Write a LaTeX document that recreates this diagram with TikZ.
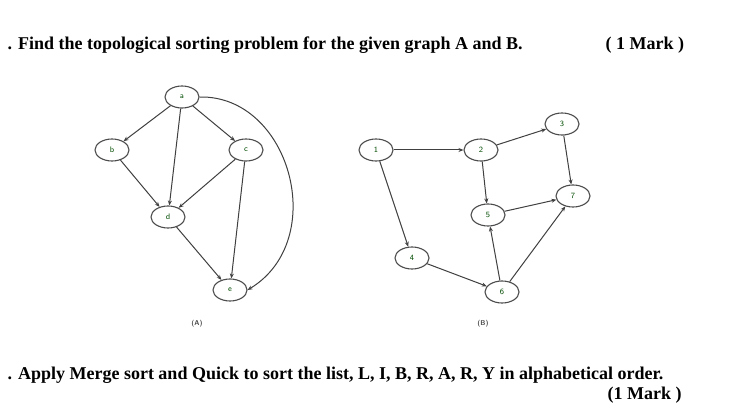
\documentclass[tikz,border=0pt]{standalone}
\usepackage{fontspec}
\setmainfont{Liberation Serif}
\usetikzlibrary{arrows.meta,shapes.geometric}
\begin{document}
\begin{tikzpicture}[x=1pt,y=-1pt,
  vert/.style={draw=black!70,line width=1.1pt,ellipse,minimum width=34pt,minimum height=22pt,inner sep=0pt,font=\sffamily\footnotesize,text=green!30!black},
  edge/.style={draw=black!75,line width=1pt,-{Stealth[length=5pt,width=4pt]}},
  title/.style={font=\bfseries\fontsize{18}{21}\selectfont,anchor=west}]
\useasboundingbox (0,0) rectangle (745,417);
\fill[white] (0,0) rectangle (745,417);
\node[title] (t1) at (4,45) {. Find the topological sorting problem for the given graph A and B.};
\node[title] (m1) at (602,45) {( 1 Mark )};
\node[title] (t2) at (4,375) {. Apply Merge sort and Quick to sort the list, L, I, B, R, A, R, Y in alphabetical order.};
\node[title] (m2) at (604,395) {(1 Mark )};
\node[vert] (a) at (182,97) {a};
\node[vert] (b) at (112,150) {b};
\node[vert] (c) at (246,150) {c};
\node[vert] (d) at (168,217) {d};
\node[vert] (e) at (230,290) {e};
\node[vert] (n1) at (376,150) {1};
\node[vert] (n2) at (481,150) {2};
\node[vert] (n3) at (562,124) {3};
\node[vert] (n7) at (573,196) {7};
\node[vert] (n5) at (488,215) {5};
\node[vert] (n4) at (412,258) {4};
\node[vert] (n6) at (502,292) {6};
\node[font=\sffamily\scriptsize\bfseries,text=black!70] (la) at (197,324) {(A)};
\node[font=\sffamily\scriptsize\bfseries,text=black!70] (lb) at (483,324) {(B)};
\draw[edge] (a) -- (b);
\draw[edge] (a) -- (c);
\draw[edge] (a) -- (d);
\draw[edge] (b) -- (d);
\draw[edge] (c) -- (d);
\draw[edge] (c) -- (e);
\draw[edge] (d) -- (e);
\draw[edge] (a.east) .. controls (290,95) and (330,240) .. (e.east);
\draw[edge] (n1) -- (n2);
\draw[edge] (n1) -- (n4);
\draw[edge] (n2) -- (n3);
\draw[edge] (n2) -- (n5);
\draw[edge] (n3) -- (n7);
\draw[edge] (n5) -- (n7);
\draw[edge] (n4) -- (n6);
\draw[edge] (n6) -- (n5);
\draw[edge] (n6) -- (n7);
\end{tikzpicture}
\end{document}
